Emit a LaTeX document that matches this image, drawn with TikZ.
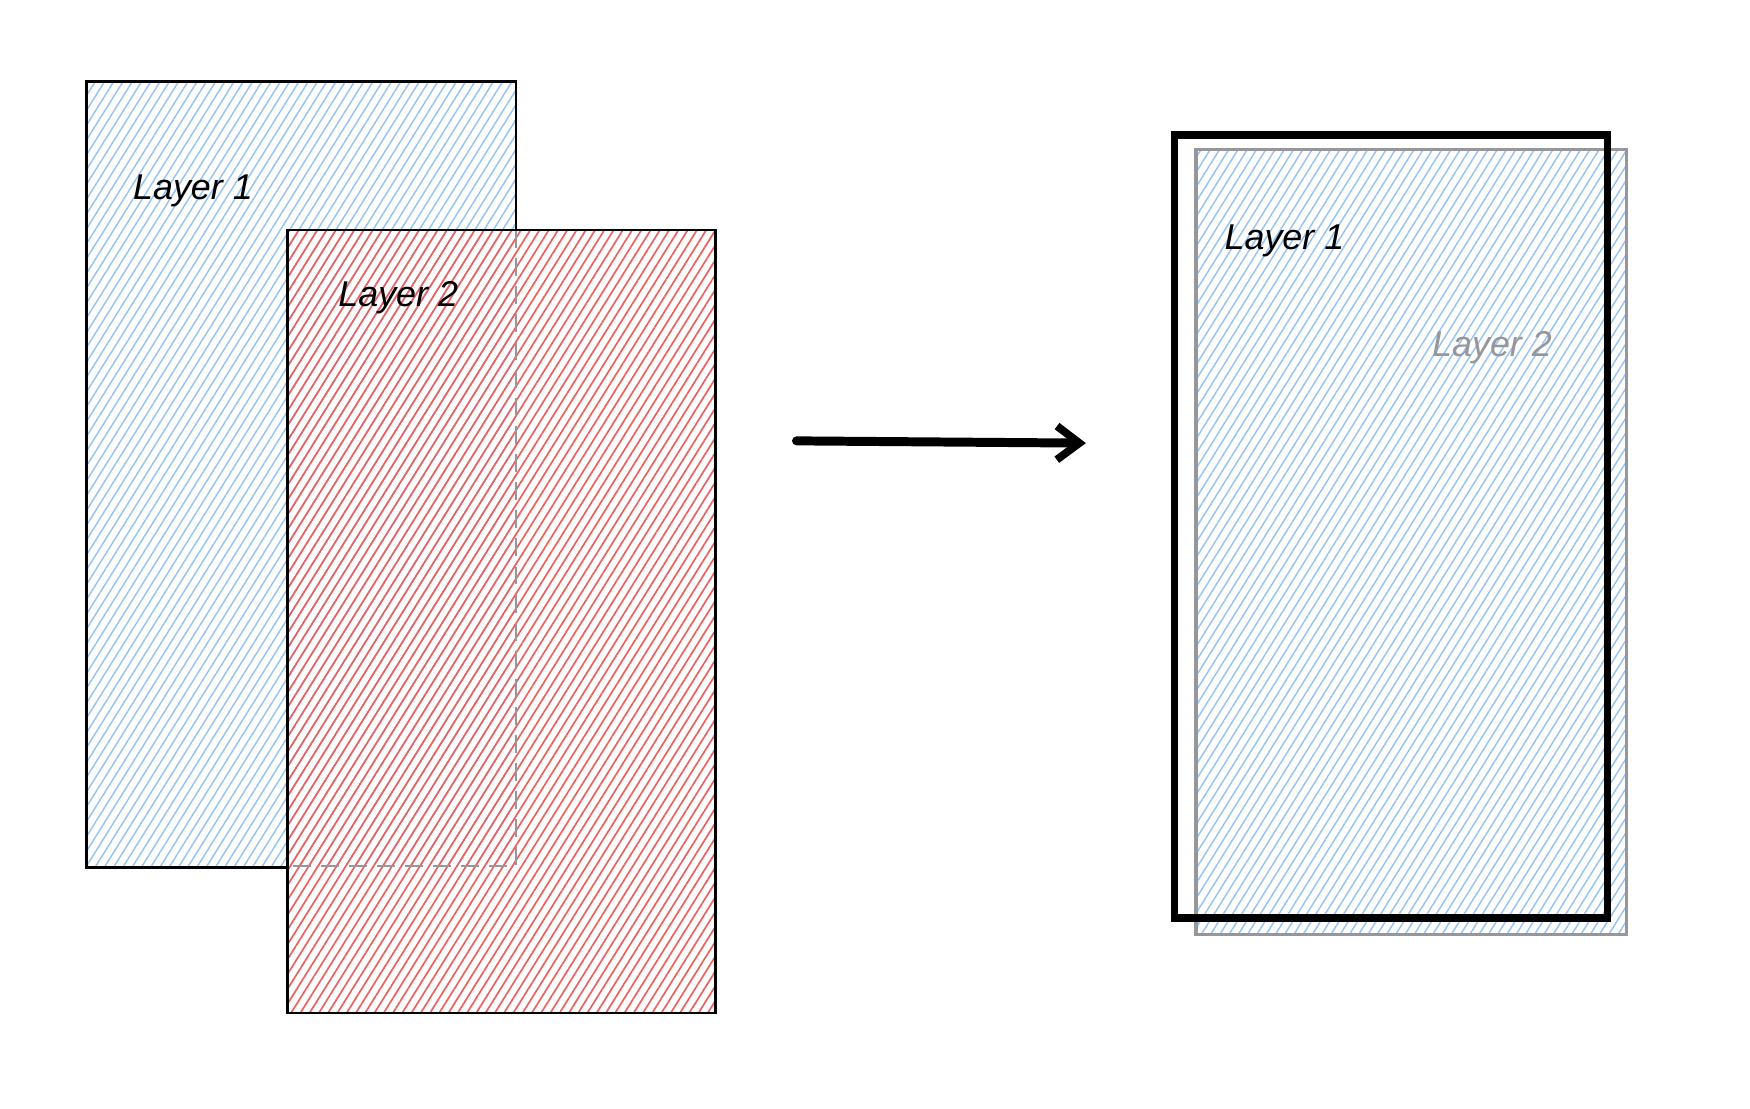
\documentclass[tikz,border=0pt]{standalone}
\usepackage{fontspec}
\setmainfont{Liberation Sans}
\usetikzlibrary{patterns.meta,arrows.meta}
\definecolor{hblue}{RGB}{150,195,240}
\definecolor{hred}{RGB}{238,95,95}
\definecolor{lgray}{RGB}{150,150,155}
\tikzset{
  bluehatch/.style={pattern={Lines[angle=58,distance=7pt,line width=1.3pt]},pattern color=hblue},
  redhatch/.style={pattern={Lines[angle=58,distance=7pt,line width=1.5pt]},pattern color=hred},
  lab/.style={font=\itshape\fontsize{32}{32}\selectfont,anchor=center},
}
\begin{document}
\begin{tikzpicture}[x=1pt,y=-1pt]
\useasboundingbox (0,0) rectangle (1560,988);
% layer 1
\path[bluehatch] (77,73) rectangle (460,773);
\path[redhatch] (256,205) rectangle (638,903);
\draw[line width=2.5pt] (256,773) -- (77,773) -- (77,73) -- (460,73) -- (460,205);
\draw[lgray,line width=2pt,dash pattern=on 16pt off 9pt] (460,205) -- (460,772) -- (256,772);
\draw[line width=2.5pt] (256,205) rectangle (638,903);
\node[lab] (l1) at (172,170) {Layer 1};
\node[lab] (l2) at (355,265) {Layer 2};
% arrow
\coordinate (a1) at (710,393);
\coordinate (a2) at (968,395);
\draw[line width=8pt,line cap=round,-{Straight Barb[length=20pt,width=30pt,line width=7pt]}] (a1) -- (a2);
% right
\path[bluehatch] (1066,133) rectangle (1450,833);
\draw[lgray,line width=3pt] (1066,133) rectangle (1450,833);
\draw[line width=7pt] (1047,120) rectangle (1433,818);
\node[lab] (r1) at (1145,215) {Layer 1};
\node[lab,text=lgray] (r2) at (1330,310) {Layer 2};
\end{tikzpicture}
\end{document}
